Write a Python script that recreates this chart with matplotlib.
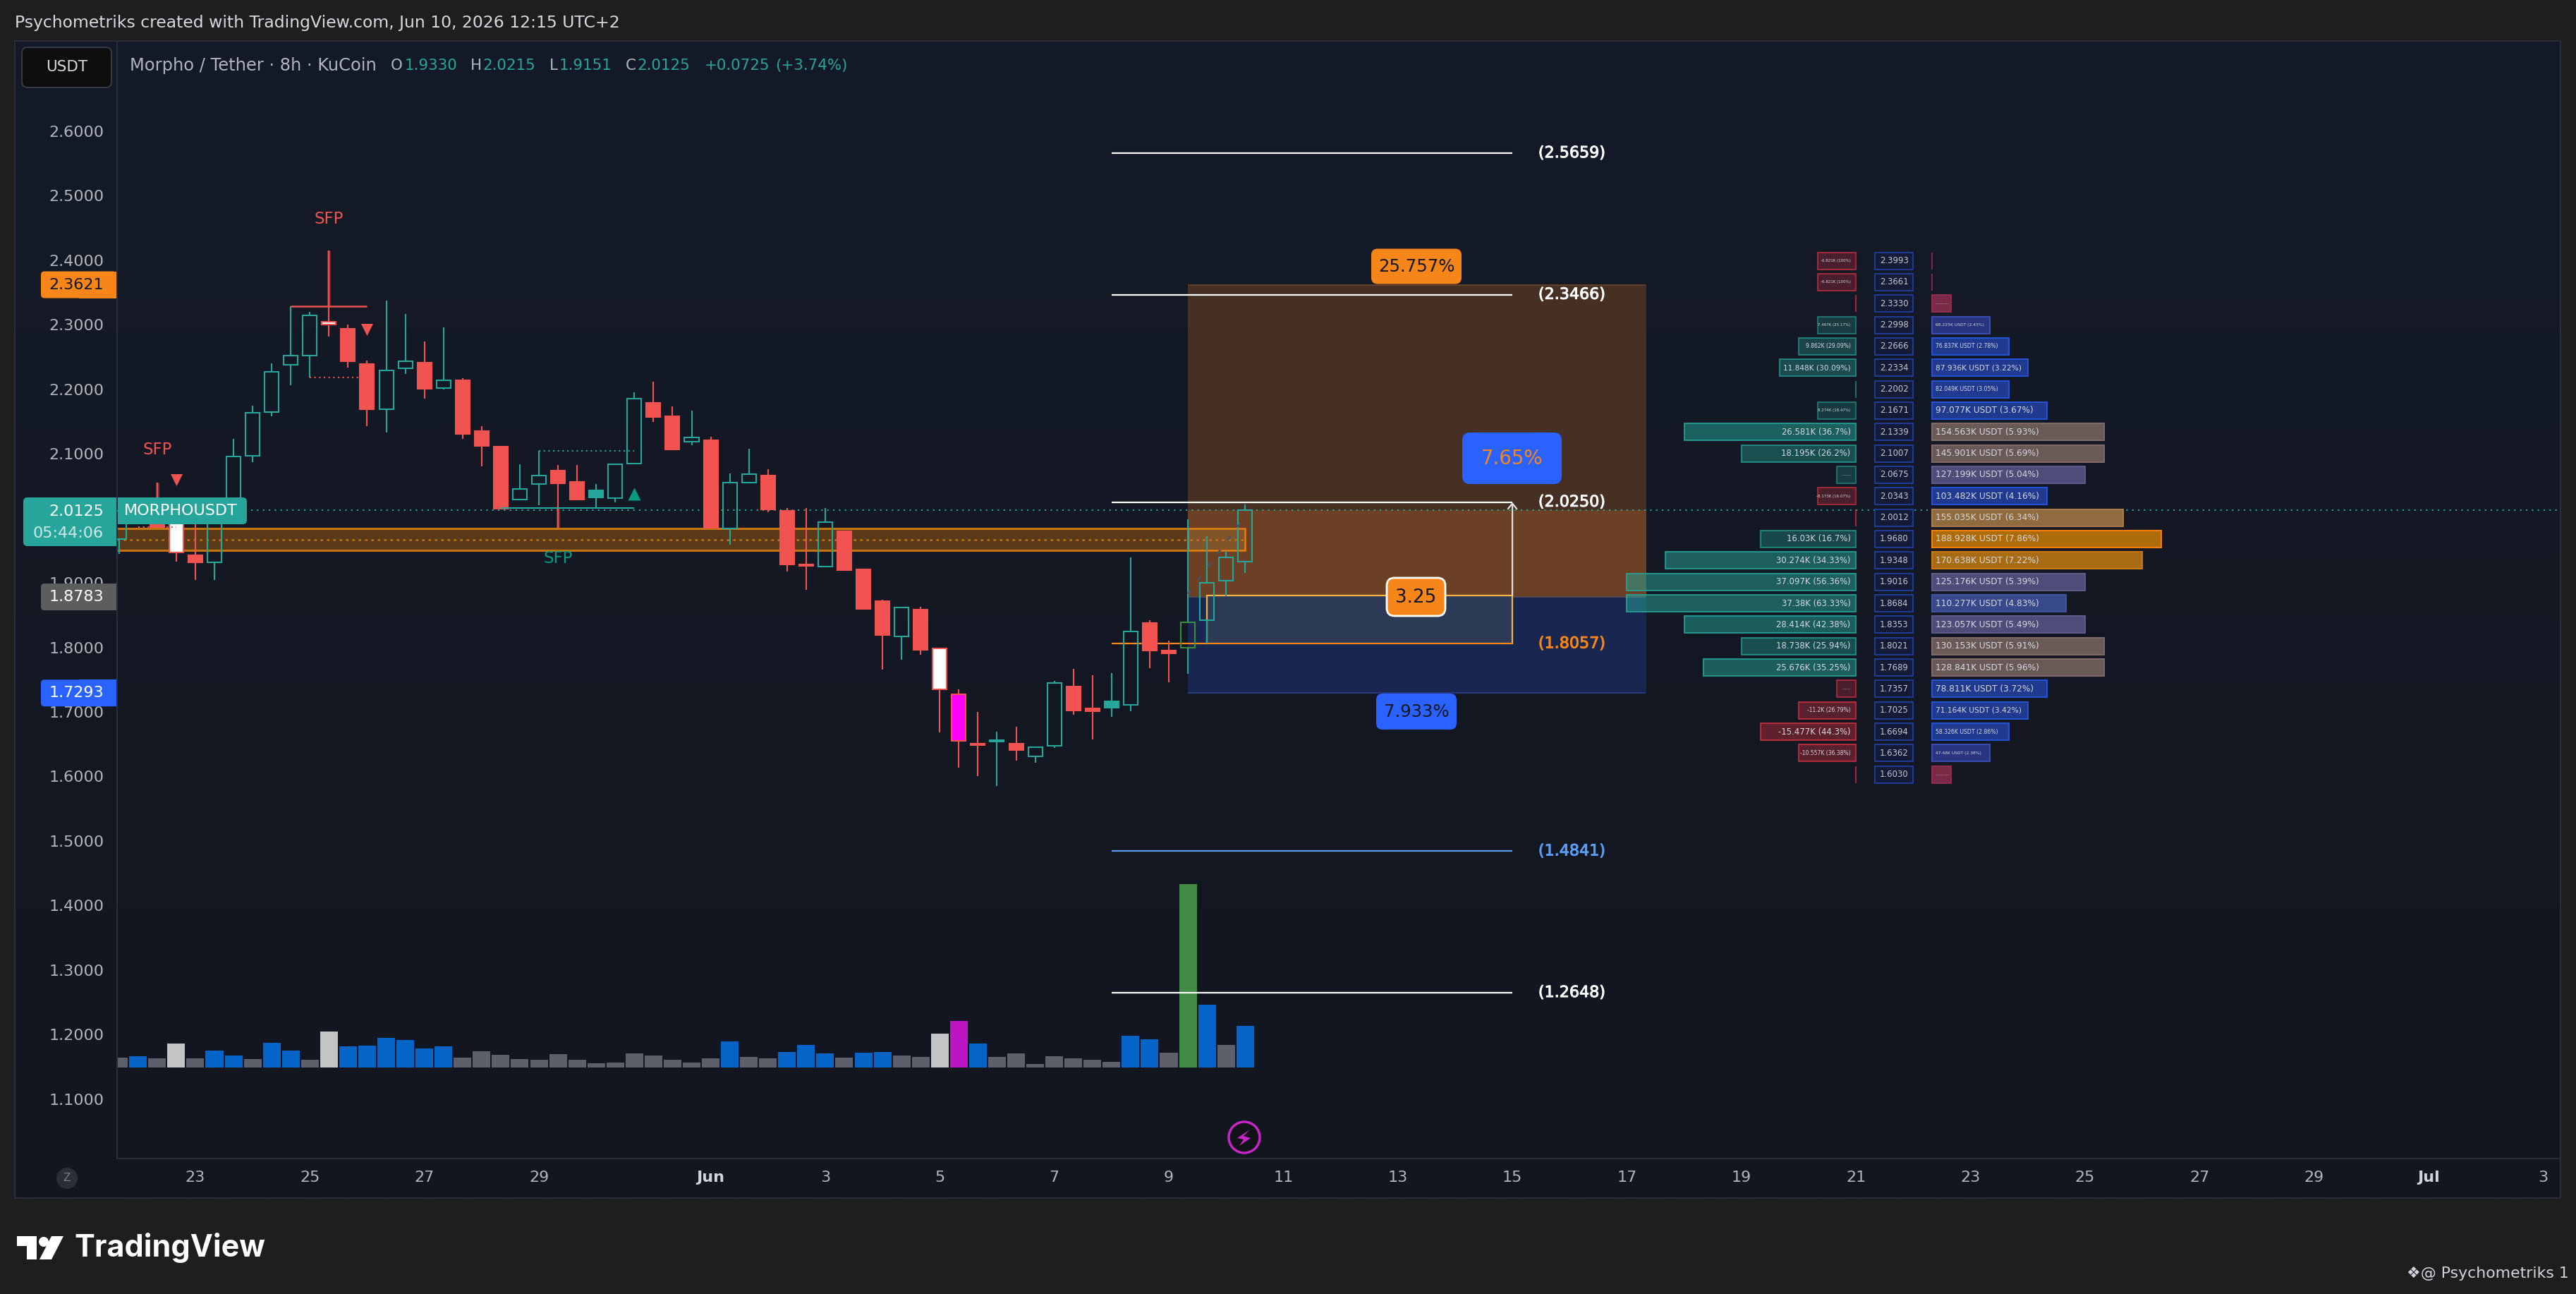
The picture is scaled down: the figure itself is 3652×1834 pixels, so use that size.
import numpy as np
import matplotlib
matplotlib.use("Agg")
import matplotlib.pyplot as plt
import matplotlib.patheffects as pe
from matplotlib.patches import FancyBboxPatch, Rectangle, Polygon, Circle
from matplotlib.transforms import IdentityTransform

# ---------- data ----------
opens = [1.968,1.995,2.012,1.999,1.9431,1.9316,2.01,2.0966,2.1653,2.2378,2.2520,2.3053,2.2938,2.2390,2.1695,2.2328,2.2413,2.2021,2.2140,2.1350,2.1112,2.0295,2.0537,2.0740,2.0563,2.0321,2.0310,2.0850,2.1790,2.1582,2.1192,2.1212,1.9842,2.0552,2.0663,2.0115,1.9286,1.9255,1.9800,1.9209,1.8718,1.8166,1.8584,1.7982,1.7279,1.6508,1.6543,1.6508,1.6316,1.6481,1.7395,1.7053,1.7068,1.7107,1.8377,1.7951,1.8001,1.8419,1.9029,1.9330]
highs = [2.02,2.028,2.0552,2.01,2.0,2.02,2.1231,2.1741,2.2397,2.3287,2.3199,2.4151,2.3003,2.2443,2.3375,2.3168,2.2739,2.2957,2.2171,2.1427,2.1112,2.0836,2.1043,2.0828,2.0828,2.0533,2.0843,2.1954,2.2118,2.1735,2.1670,2.1262,2.0698,2.1078,2.0763,2.0161,2.0161,2.0161,1.9800,1.9209,1.8737,1.8615,1.8630,1.7982,1.7349,1.7000,1.6692,1.6769,1.6458,1.7479,1.7667,1.7567,1.7602,1.9393,1.8423,1.8104,1.9984,1.9727,1.9497,2.0215]
lows = [1.945,1.992,1.9869,1.9332,1.9048,1.9048,2.00,2.0874,2.1580,2.2067,2.2182,2.2815,2.2336,2.1430,2.1334,2.2236,2.1856,2.1998,2.1231,2.0809,2.0149,2.0295,2.0203,1.9850,2.0291,2.0160,2.0249,2.0850,2.1498,2.1072,2.1137,1.9854,1.9593,2.0552,2.0099,1.9179,1.8895,1.9255,1.9202,1.8599,1.7659,1.7813,1.7889,1.6685,1.6140,1.6009,1.5856,1.6247,1.6217,1.6447,1.6961,1.6577,1.6926,1.7015,1.7682,1.7464,1.7594,1.8058,1.8799,1.9151]
closes = [2.012,2.02,1.9869,1.95,1.9316,2.01,2.0955,2.1641,2.2267,2.2528,2.3149,2.3007,2.2436,2.1691,2.2290,2.2432,2.2006,2.2136,2.1308,2.1120,2.0149,2.0460,2.0659,2.0540,2.0291,2.0433,2.0843,2.1861,2.1575,2.1072,2.1251,1.9854,2.0552,2.0683,2.0142,1.9286,1.9263,1.9938,1.9202,1.8599,1.8193,1.8615,1.7966,1.7345,1.6554,1.6489,1.6562,1.6412,1.6458,1.7444,1.7026,1.7015,1.7164,1.8242,1.7955,1.7912,1.8384,1.9000,1.9390,2.0125]
opens[3] = 1.999; closes[3] = 1.9477
volumes = [42,48,39,102,39,72,51,36,105,72,33,153,90,93,126,117,81,90,42,69,54,36,33,57,33,18,21,60,51,33,21,39,111,45,39,66,96,60,42,63,66,51,45,144,198,102,45,60,15,48,39,33,24,135,120,63,780,267,96,177]
light_volume = [3, 11, 43]
magenta_volume = [44]
green_volume = [56]
blue_volume = [1,5,6,8,9,12,13,14,15,16,17,32,35,36,37,39,40,45,53,54,57,59]
filled_up = [25, 46, 52]

price_ticks = [2.6,2.5,2.4,2.3,2.2,2.1,1.9,1.8,1.7,1.6,1.5,1.4,1.3,1.2,1.1]
time_ticks = [4,10,16,22,31,37,43,49,55,61,67,73,79,85,91,97,103,109,115,121,127]
time_labels = ['23','25','27','29','Jun','3','5','7','9','11','13','15','17','19','21','23','25','27','29','Jul','3']

target_levels = [2.5659, 2.3466, 2.0250, 1.8057, 1.4841, 1.2648]
box_top, box_entry, box_bottom = 2.3621, 1.8783, 1.7293
last_price = 2.0125
zone_top, zone_mid, zone_bottom = 1.9846, 1.9673, 1.9505

row_prices = [2.3993,2.3661,2.3330,2.2998,2.2666,2.2334,2.2002,2.1671,2.1339,2.1007,2.0675,2.0343,2.0012,1.9680,1.9348,1.9016,1.8684,1.8353,1.8021,1.7689,1.7357,1.7025,1.6694,1.6362,1.6030]
delta_bars = [2,2,0,2,3,4,0,2,9,6,1,2,0,5,10,12,12,9,6,8,1,3,5,3,0]
delta_positive = [0,0,0,1,1,1,1,1,1,1,1,0,0,1,1,1,1,1,1,1,0,0,0,0,0]
delta_labels = ['-6.821K (100%)','-6.821K (100%)','','7.467K (25.17%)','9.862K (29.09%)','11.848K (30.09%)','','8.274K (18.47%)','26.581K (36.7%)','18.195K (26.2%)','3.1K (6.2%)','-8.173K (16.07%)','','16.03K (16.7%)','30.274K (34.33%)','37.097K (56.36%)','37.38K (63.33%)','28.414K (42.38%)','18.738K (25.94%)','25.676K (35.25%)','-3.9K (7%)','-11.2K (26.79%)','-15.477K (44.3%)','-10.557K (36.38%)','']
volume_bars = [0,0,1,3,4,5,4,6,9,9,8,6,10,12,11,8,7,8,9,9,6,5,4,3,1]
volume_labels = ['','','15.2K USDT (0.6%)','68.225K USDT (2.43%)','76.837K USDT (2.78%)','87.936K USDT (3.22%)','82.049K USDT (3.05%)','97.077K USDT (3.67%)','154.563K USDT (5.93%)','145.901K USDT (5.69%)','127.199K USDT (5.04%)','103.482K USDT (4.16%)','155.035K USDT (6.34%)','188.928K USDT (7.86%)','170.638K USDT (7.22%)','125.176K USDT (5.39%)','110.277K USDT (4.83%)','123.057K USDT (5.49%)','130.153K USDT (5.91%)','128.841K USDT (5.96%)','78.811K USDT (3.72%)','71.164K USDT (3.42%)','58.326K USDT (2.86%)','47.48K USDT (2.38%)','14.8K USDT (0.9%)']

# ---------- layout ----------
W, H = 3652, 1834
AX_L, AX_R, AX_T, AX_B = 166, 3630, 60, 1642
BAR0, BAR_PX = 168.7, 27.06
PY0, PPX = 186.0, 914.5      # y pixel of 2.6, pixels per price unit

OUTER = '#1e1e1e'; GRID = '#2a2e39'; TXT = '#b2b5be'
TEAL = '#26a69a'; RED = '#f05350'; ORANGE = '#f7861a'; BLUE = '#2962ff'

plt.rcParams['font.family'] = ['DejaVu Sans']
fig = plt.figure(figsize=(W/100, H/100), dpi=100, facecolor=OUTER)

def axrect(l, t, r, b):
    return [l/W, 1-b/H, (r-l)/W, (b-t)/H]

# pane background
bg = fig.add_axes(axrect(21, 58, AX_R, 1698), zorder=0)
c0 = np.array(matplotlib.colors.to_rgb('#151a28'))
c1 = np.array(matplotlib.colors.to_rgb('#11161f'))
t = np.linspace(0, 1, 256)[:, None, None]
bg.imshow(c0*(1-t)+c1*t, aspect='auto', interpolation='bilinear')
bg.set_xticks([]); bg.set_yticks([])
for s in bg.spines.values():
    s.set_color(GRID); s.set_linewidth(1.5)

xlim = ((AX_L-BAR0)/BAR_PX, (AX_R-BAR0)/BAR_PX)
ylim = (2.6-(AX_B-PY0)/PPX, 2.6-(AX_T-PY0)/PPX)
idx = np.arange(len(opens))

# volume pane
vax = fig.add_axes(axrect(AX_L, AX_T, AX_R, AX_B), zorder=1)
vax.patch.set_alpha(0); vax.axis('off')
vcols = []
for i in idx:
    if i in light_volume: vcols.append('#c3c4c6')
    elif i in magenta_volume: vcols.append('#bc16c4')
    elif i in green_volume: vcols.append('#418b47')
    elif i in blue_volume: vcols.append('#0564c8')
    else: vcols.append('#5d606b')
vax.bar(idx, volumes, width=0.924, color=vcols, linewidth=0)
vax.set_xlim(*xlim)
vax.set_ylim(-(AX_B-1513)*3, (1513-AX_T)*3)

# price pane
ax = fig.add_axes(axrect(AX_L, AX_T, AX_R, AX_B), zorder=2)
ax.patch.set_alpha(0)
for k in ('top', 'right'):
    ax.spines[k].set_visible(False)
for k in ('left', 'bottom'):
    ax.spines[k].set_color(GRID); ax.spines[k].set_linewidth(1.5)
ax.set_yticks(price_ticks)
ax.set_yticklabels([f'{p:.4f}' for p in price_ticks], fontsize=16, color=TXT)
ax.tick_params(axis='y', length=0, pad=13.5)
ax.set_xticks(time_ticks)
ax.set_xticklabels(time_labels, fontsize=16, color=TXT)
for lab, s in zip(ax.get_xticklabels(), time_labels):
    if s in ('Jun', 'Jul'):
        lab.set_fontweight('bold'); lab.set_color('#d1d4dc')
ax.tick_params(axis='x', length=0, pad=12)
ax.set_xlim(*xlim); ax.set_ylim(*ylim)

# position box
ax.add_patch(Rectangle((56, last_price), 24, box_top-last_price, fc='#453023', ec='none', zorder=1))
ax.add_patch(Rectangle((56, box_entry), 24, last_price-box_entry, fc='#6b4024', ec='none', zorder=1))
ax.add_patch(Rectangle((56, box_bottom), 24, box_entry-box_bottom, fc='#192650', ec='none', zorder=1))
ax.hlines(box_top, 56, 80, color='#6a452b', lw=1.2, zorder=1.5)
ax.hlines(box_entry, 56, 80, color='#4d4a55', lw=1.5, zorder=1.5)
ax.hlines(box_bottom, 56, 80, color='#2a3a80', lw=1.5, zorder=1.5)

# orange zone
ax.add_patch(Rectangle((xlim[0], zone_bottom), 59-xlim[0], zone_top-zone_bottom, fc='#ff8c00', alpha=0.30, ec='none', zorder=2))
ax.hlines([zone_top, zone_bottom], xlim[0], 56, color='#c4730f', lw=2.2, zorder=2.1)
ax.add_patch(Rectangle((56, zone_bottom), 3, zone_top-zone_bottom, fc='#80552a', ec='#e67e0e', lw=1.8, zorder=2.1))
ax.hlines(zone_mid, xlim[0], 59, color='#c4730f', lw=1.8, linestyles=[(0, (1.4, 2.2))], zorder=2.2)

# target ruler
inner_top = 1.8805
ax.add_patch(Rectangle((57, target_levels[3]), 16, inner_top-target_levels[3], fc='#2d3a55', ec='none', zorder=2))
ax.plot([57, 57, 73, 73], [target_levels[3], inner_top, inner_top, target_levels[3]], color='#f5b342', lw=1.6, zorder=3)
level_colors = ['white', 'white', 'white', ORANGE, '#5b9cf6', 'white']
for lv, col in zip(target_levels, level_colors):
    ax.hlines(lv, 52, 73, color=col, lw=1.6, zorder=3)
    ax.text(74.36, lv, f'({lv:.4f})', color=col, fontsize=16, va='center', ha='left', zorder=8,
            path_effects=[pe.withStroke(linewidth=0.7, foreground=col)])
ax.annotate('', xy=(73, target_levels[2]), xytext=(73, inner_top),
            arrowprops=dict(arrowstyle='->,head_width=0.45,head_length=0.55', color='#dfe1e6', lw=1.6, shrinkA=0, shrinkB=0), zorder=3)

# last price line
ax.hlines(last_price, 6, xlim[1], color=TEAL, lw=1.5, linestyles=[(0, (1, 3))], zorder=3)

# table
teal_rgb = matplotlib.colors.to_rgb('#26a69a')
red_rgb = matplotlib.colors.to_rgb('#f23645')
def delta_alpha(w):
    return {0: .3, 1: .25, 2: .24, 3: .32, 4: .36, 5: .34, 6: .39}.get(w, .5)
dface, dedge = [], []
for w, pos in zip(delta_bars, delta_positive):
    base = teal_rgb if pos else red_rgb
    a = delta_alpha(w)
    dface.append((*base, a)); dedge.append((*base, min(1, a+.32)))
lefts = [91-w for w in delta_bars]
ax.barh(row_prices, delta_bars, left=lefts, height=0.0262, color=dface, edgecolor=dedge, linewidth=1.5, zorder=4)
ax.barh(row_prices, [2]*len(row_prices), left=92, height=0.0262, color='#141b36', edgecolor='#1f3a93', linewidth=1.5, zorder=4)
vol_face = {0: '#7a2a45', 1: '#7a2a45', 3: '#29357f', 4: '#1f3a8f', 5: '#1f3a8f', 6: '#1f3a8f', 7: '#37498a', 8: '#4e4c78', 9: '#695a58', 10: '#8f6b3f', 11: '#a86c14', 12: '#ae6b0a'}
vol_edge = {0: '#7a2a45', 1: '#8a2f4f', 3: '#3a4cae', 4: '#2452d0', 5: '#2452d0', 6: '#2452d0', 7: '#41549f', 8: '#5f5a8a', 9: '#806a68', 10: '#a67e4e', 11: '#c77a10', 12: '#f07f0a'}
ax.barh(row_prices, volume_bars, left=95, height=0.0262,
        color=[vol_face[w] for w in volume_bars], edgecolor=[vol_edge[w] for w in volume_bars], linewidth=1.5, zorder=4)
TBL = '#d6d8de'
for p, w, s in zip(row_prices, delta_bars, delta_labels):
    if s:
        ax.text(90.72, p, s, ha='right', va='center', color=TBL, zorder=5,
                fontsize={1: 1.5, 2: 4.0, 3: 5.5, 4: 7.6}.get(w, 8.4))
for p in row_prices:
    ax.text(93, p, f'{p:.4f}', ha='center', va='center', color='#c7c9d0', fontsize=8.4, zorder=5)
for p, w, s in zip(row_prices, volume_bars, volume_labels):
    if s:
        ax.text(95.18, p, s, ha='left', va='center', color=TBL, zorder=5,
                fontsize={1: 1.4, 3: 4.3, 4: 5.6, 5: 7.7}.get(w, 8.7))

# candles
special = {3: ('white', RED), 11: ('white', RED), 43: ('white', RED), 44: ('#ff00ff', RED)}
for i, o, h, l, c in zip(idx, opens, highs, lows, closes):
    up = c >= o
    col = TEAL if up else RED
    top, bot = max(o, c), min(o, c)
    ax.vlines(i, top, h, color=col, lw=1.5, zorder=5)
    ax.vlines(i, l, bot, color=col, lw=1.5, zorder=5)
    if i in special:
        fc, ec = special[i]
    elif i == 56:
        fc, ec = 'none', '#388e3c'
    elif up and i not in filled_up:
        fc, ec = 'none', TEAL
    else:
        fc, ec = col, col
    ax.bar(i, top-bot, bottom=bot, width=0.74, facecolor=fc, edgecolor=ec, linewidth=1.5, zorder=5.2)

# swing-failure marks
for i, a, b in [(11, 2.3287, 2.4151), (2, 2.0, 2.0552), (23, 1.985, 2.0165)]:
    ax.vlines(i, a, b, color=RED, lw=3.4, alpha=.45, zorder=4.9)
ax.hlines(2.3287, 9, 13, color=RED, lw=1.8, zorder=5.5)
ax.hlines(2.0165, 20, 27, color=TEAL, lw=1.5, zorder=5.5)
ax.hlines([2.2182, 1.9869], [10, 1], [12.8, 3], color=RED, lw=1.5, linestyles=[(0, (1, 2.2))], zorder=5.5)
ax.hlines(2.1043, 22, 27, color=TEAL, lw=1.5, linestyles=[(0, (1, 2.2))], zorder=5.5)
ax.scatter([13, 3], [2.2931, 2.0598], marker='v', s=150, color=RED, linewidths=0, zorder=6)
ax.scatter([27], [2.0380], marker='^', s=170, color='#089981', linewidths=0, zorder=6)
ax.text(11, 2.4644, 'SFP', color=RED, fontsize=16.5, ha='center', va='center', zorder=6)
ax.text(2, 2.1063, 'SFP', color=RED, fontsize=16.5, ha='center', va='center', zorder=6)
ax.text(23, 1.9384, 'SFP', color='#089981', fontsize=16.5, ha='center', va='center', zorder=6)
ax.plot([56, 59], [1.883, 2.003], color='#4c5266', lw=2, linestyle=(0, (2.5, 6)), zorder=5.6)
ax.set_xlim(*xlim); ax.set_ylim(*ylim)

# ---------- pixel-placed furniture ----------
ID = IdentityTransform()
def px_box(x0, y0, x1, y1, fc, ec='none', lw=0, r=6, z=10, square=None):
    fig.add_artist(FancyBboxPatch((x0, H-y1), x1-x0, y1-y0, boxstyle=f'round,pad=0,rounding_size={r}',
                                  fc=fc, ec=ec, lw=lw, transform=ID, zorder=z))
    if square == 'right':
        fig.add_artist(Rectangle(((x0+x1)/2, H-y1), (x1-x0)/2, y1-y0, fc=fc, ec='none', transform=ID, zorder=z))
    if square == 'left':
        fig.add_artist(Rectangle((x0, H-y1), (x1-x0)/2, y1-y0, fc=fc, ec='none', transform=ID, zorder=z))
def px_text(x, y, s, color='white', size=16, ha='left', va='center', z=11, **kw):
    fig.text(x/W, 1-y/H, s, color=color, fontsize=size, ha=ha, va=va, zorder=z, **kw)
def py(p):
    return PY0+(2.6-p)*PPX

# chart labels
px_box(1944, 352.5, 2072, 402.5, ORANGE, r=9)
px_text(2008, 378, '25.757%', color='#131722', size=17.6, ha='center')
px_box(2073, 613, 2214, 686, BLUE, r=11)
px_text(2143.5, 650, '7.65%', color=ORANGE, size=19.8, ha='center')
px_box(1966, 819, 2049, 873, ORANGE, ec='white', lw=2, r=11)
px_text(2007.5, 847, '3.25', color='#131722', size=18.8, ha='center')
px_box(1951, 983, 2065, 1034, BLUE, r=9)
px_text(2008, 1009, '7.933%', color='#131722', size=17.5, ha='center')

# price tags
px_box(58, py(box_top)-19, 165, py(box_top)+19, ORANGE, r=5, square='right')
px_text(147, py(box_top), f'{box_top:.4f}', color='#131722', ha='right')
px_box(58, py(box_entry)-19, 165, py(box_entry)+19, '#5d5d60', r=5, square='right')
px_text(147, py(box_entry), f'{box_entry:.4f}', ha='right')
px_box(58, py(box_bottom)-19, 165, py(box_bottom)+19, BLUE, r=5, square='right')
px_text(147, py(box_bottom), f'{box_bottom:.4f}', ha='right')
px_box(33, 705, 165, 774, TEAL, r=6, square='right')
px_text(147, 725, f'{last_price:.4f}', ha='right')
px_text(147, 756, '05:44:06', color='#cfe8e5', ha='right')
px_box(167, 705, 350, 743, TEAL, r=6, square='left')
px_text(176, 724, 'MORPHOUSDT', size=16)

# header
px_text(21, 33, 'Psychometriks created with TradingView.com, Jun 10, 2026 12:15 UTC+2', color='#d6d8de', size=16.9)
px_box(31, 67, 158, 124, '#0e0e0e', ec='#363a45', lw=1.5, r=8)
px_text(94.5, 95, 'USDT', color='#d6d8de', size=15.5, ha='center')
fig.add_artist(plt.Line2D([166, 166], [H-124, H-58], color=GRID, lw=1.5, transform=ID, zorder=3))
px_text(184, 93, 'Morpho / Tether · 8h · KuCoin', color=TXT, size=17.4)
for x, s, col in [(554, 'O', TXT), (574, '1.9330', TEAL), (667, 'H', TXT), (684, '2.0215', TEAL), (779, 'L', TXT), (793, '1.9151', TEAL),
                  (887, 'C', TXT), (903, '2.0125', TEAL), (999, '+0.0725', TEAL), (1099, '(+3.74%)', TEAL)]:
    px_text(x, 93, s, color=col, size=15.4)

# Z button and lightning icon
fig.add_artist(Circle((95, H-1670), 15, fc='#2a2e39', ec='none', transform=ID, zorder=10))
px_text(95, 1670, 'Z', color='#787b86', size=11, ha='center')
cx, cy = 1764, 1612
fig.add_artist(Circle((cx, H-cy), 22, fc='#101218', ec='#c724c7', lw=2.5, transform=ID, zorder=10))
bolt = [(8, -11), (-1, -2), (9, 1), (-7, 12), (-1, 3), (-10, 1)]
fig.add_artist(Polygon([(cx+a, H-(cy+b)) for a, b in bolt], closed=True, fc='#c724c7', ec='none', transform=ID, zorder=11))

# footer
fig.add_artist(Polygon([(24, H-1752), (52, H-1752), (52, H-1785), (38, H-1785), (38, H-1766), (24, H-1766)], closed=True, fc='white', ec='none', transform=ID, zorder=10))
fig.add_artist(Circle((62, H-1760), 7, fc='white', ec='none', transform=ID, zorder=10))
fig.add_artist(Polygon([(73, H-1752), (90, H-1752), (73, H-1785), (56, H-1785)], closed=True, fc='white', ec='none', transform=ID, zorder=10))
px_text(105, 1768, 'TradingView', size=31, family='Inter', fontweight='bold')
px_text(3642, 1805, '❖@ Psychometriks 1', color='#d1d4dc', size=15.8, ha='right')

fig.savefig('out.png', dpi=100, facecolor=OUTER)
